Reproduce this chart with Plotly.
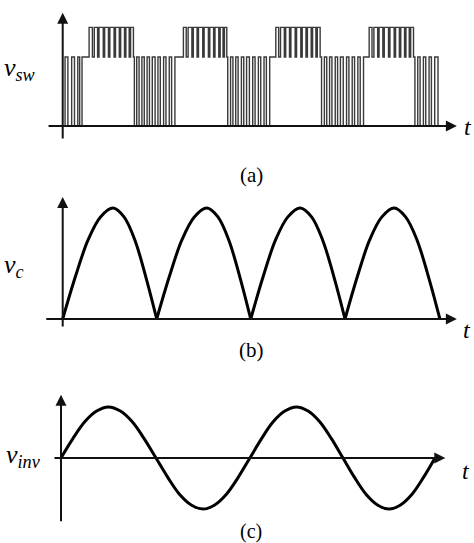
import plotly.graph_objects as go

# ---------------- data ----------------
# Panel (a): switched voltage levels (normalised)
LEVEL_LOW, LEVEL_MID, LEVEL_HIGH = 0.0, 1.0, 1.43
# switching regions, in order: (kind, switching instants in ms)
sw_regions = [
    ("low",  [0.25, 0.55, 0.95, 1.25, 1.6, 1.8, 2.05]),
    ("high", [2.8, 3.15, 3.35, 3.7, 3.85, 4.3, 4.45, 4.85, 5.0, 5.45, 5.6, 6.0, 6.15, 6.55, 6.7, 7.05, 7.2, 7.5]),
    ("low",  [7.6, 7.85, 8.1, 8.4, 8.65, 8.95, 9.2, 9.5, 9.8, 10.1, 10.35, 10.7, 10.95, 11.3, 11.55, 11.9]),
    ("high", [12.8, 13.1, 13.3, 13.7, 13.85, 14.25, 14.4, 14.85, 15.0, 15.45, 15.6, 16.0, 16.15, 16.55, 16.7, 17.0, 17.15, 17.4]),
    ("low",  [17.5, 17.8, 18.05, 18.35, 18.6, 18.95, 19.2, 19.5, 19.8, 20.15, 20.4, 20.75, 21.0, 21.35, 21.6, 21.95]),
    ("high", [22.6, 22.9, 23.1, 23.5, 23.65, 24.05, 24.2, 24.65, 24.8, 25.25, 25.4, 25.8, 25.95, 26.35, 26.5, 26.85, 27.0, 27.3]),
    ("low",  [27.45, 27.75, 28.0, 28.3, 28.55, 28.9, 29.15, 29.45, 29.75, 30.1, 30.35, 30.7, 30.95, 31.3, 31.55, 31.9]),
    ("high", [32.5, 32.8, 33.0, 33.4, 33.55, 33.95, 34.1, 34.55, 34.7, 35.15, 35.3, 35.7, 35.85, 36.25, 36.4, 36.75, 36.9, 37.2]),
    ("low",  [37.35, 37.65, 37.9, 38.25, 38.5, 38.85, 39.1, 39.45, 39.8]),
]

# Panel (b): rectified voltage, four arches (t in ms, normalised value)
vc_arches_t = [
    [0.0, 1.34, 2.68, 4.01, 5.35, 6.5, 7.66, 8.81, 9.97],
    [9.97, 11.3, 12.63, 13.96, 15.3, 16.46, 17.62, 18.78, 19.94],
    [19.94, 21.25, 22.56, 23.88, 25.2, 26.39, 27.57, 28.76, 29.94],
    [29.94, 31.24, 32.54, 33.85, 35.15, 36.36, 37.58, 38.79, 40.0],
]
vc_arch_v = [0.0, 0.38, 0.71, 0.92, 1.0, 0.92, 0.71, 0.38, 0.0]

# Panel (c): inverter output voltage
vinv_t = [0.0, 1.27, 2.54, 3.81, 5.08, 6.35, 7.62, 8.89, 10.16,
          11.42, 12.67, 13.93, 15.18, 16.44, 17.69, 18.95, 20.2,
          21.45, 22.69, 23.94, 25.18, 26.43, 27.67, 28.92, 30.16,
          31.39, 32.62, 33.85, 35.08, 36.31, 37.54, 38.77, 40.0]
vinv_v = [0.0, 0.38, 0.71, 0.92, 1.0, 0.92, 0.71, 0.38, 0.0,
          -0.38, -0.71, -0.92, -1.0, -0.92, -0.71, -0.38, 0.0,
          0.38, 0.71, 0.92, 1.0, 0.92, 0.71, 0.38, 0.0,
          -0.38, -0.71, -0.92, -1.0, -0.92, -0.71, -0.38, 0.0]

panel_labels = ["(a)", "(b)", "(c)"]

# ---------------- build PWM step trace ----------------
pwm_t, pwm_v = [0.0], [LEVEL_LOW]
cur = LEVEL_LOW
for kind, edges in sw_regions:
    lo, hi = (LEVEL_LOW, LEVEL_MID) if kind == "low" else (LEVEL_MID, LEVEL_HIGH)
    for e in edges:
        cur = hi if cur == lo else lo
        pwm_t.append(e)
        pwm_v.append(cur)

W, H = 474, 543
SERIF = '"Liberation Serif", "Times New Roman", "DejaVu Serif", serif'
fig = go.Figure()

fig.add_trace(go.Scatter(x=pwm_t, y=pwm_v, mode="lines", line=dict(color="#3a3a3a", width=1.4, shape="hv"),
                         xaxis="x", yaxis="y", showlegend=False, hoverinfo="skip"))
for at in vc_arches_t:
    fig.add_trace(go.Scatter(x=at, y=vc_arch_v, mode="lines", line=dict(color="black", width=3, shape="spline"),
                             xaxis="x2", yaxis="y2", showlegend=False, hoverinfo="skip"))
fig.add_trace(go.Scatter(x=vinv_t, y=vinv_v, mode="lines", line=dict(color="black", width=3, shape="spline"),
                         xaxis="x3", yaxis="y3", showlegend=False, hoverinfo="skip"))

# ---------------- layout (reference pixel coords -> figure) ----------------
def ax_cfg(zero_px, scale, top_px, bot_px):
    return dict(domain=[1 - bot_px / H, 1 - top_px / H],
                range=[(zero_px - bot_px) / scale, (zero_px - top_px) / scale], visible=False)

def xcfg(origin_px, scale):
    return dict(domain=[0, 1], range=[-origin_px / scale, (W - origin_px) / scale], visible=False)

fig.update_layout(
    width=W, height=H, margin=dict(l=0, r=0, t=0, b=0),
    paper_bgcolor="white", plot_bgcolor="rgba(0,0,0,0)",
    font=dict(family=SERIF),
    xaxis=xcfg(62.7, 9.43), yaxis=ax_cfg(126, 69, 0, 165),
    xaxis2=xcfg(62.7, 9.43), yaxis2=ax_cfg(319, 111, 180, 345),
    xaxis3=xcfg(61, 9.35), yaxis3=ax_cfg(458, 51, 380, 543),
)

def arrow(xr, yr, x0, y0, x1, y1):
    fig.add_annotation(x=x1, y=y1, ax=x0, ay=y0, xref=xr, yref=yr, axref=xr, ayref=yr,
                       text="", showarrow=True, arrowhead=2, arrowsize=1.1, arrowwidth=2,
                       arrowcolor="#111", standoff=0, startstandoff=0)

# panel a axes
arrow("x", "y", -1.66, 0, 41.8, 0)
arrow("x", "y", 0, -0.203, 0, 1.64)
# panel b axes
arrow("x2", "y2", -1.9, 0, 41.8, 0)
arrow("x2", "y2", 0, -0.08, 0, 1.1)
# panel c axes
arrow("x3", "y3", -0.86, 0, 41.1, 0)
arrow("x3", "y3", 0, -1.27, 0, 1.24)

def text(px, py, s, size=24, xanchor="center"):
    fig.add_annotation(x=px / W, y=1 - py / H, xref="paper", yref="paper", text=s,
                       showarrow=False, xanchor=xanchor, yanchor="middle",
                       font=dict(family=SERIF, size=size, color="black"))

text(2, 69, "<i>v</i><sub><i>sw</i></sub>", 26, "left")
text(2, 266, "<i>v</i><sub><i>c</i></sub>", 26, "left")
text(4, 456, "<i>v</i><sub><i>inv</i></sub>", 26, "left")
text(468, 127, "<i>t</i>", 24)
text(467, 330, "<i>t</i>", 24)
text(466, 471, "<i>t</i>", 24)
text(251, 175, panel_labels[0], 21)
text(251, 350, panel_labels[1], 21)
text(251, 531, panel_labels[2], 20)

# remove the default 8px page margin so the 474x543 figure fills the window exactly
fig.write_html("out.html", config={"displayModeBar": False, "staticPlot": True},
               post_script="document.body.style.margin='0';document.body.style.overflow='hidden';")
